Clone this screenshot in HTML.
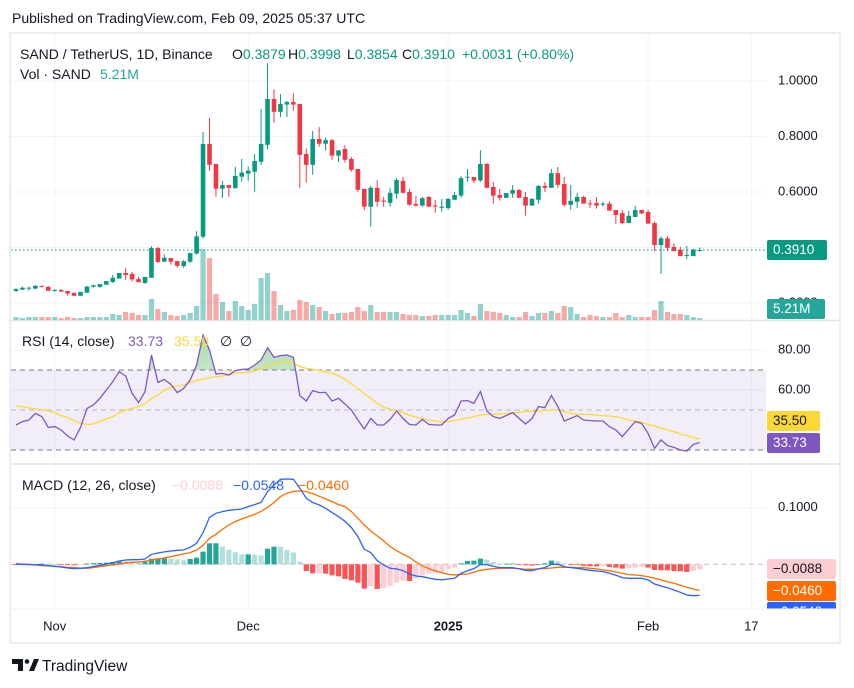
<!DOCTYPE html>
<html><head><meta charset="utf-8">
<style>
html,body{margin:0;padding:0;background:#fff;}
svg{display:block;font-family:"Liberation Sans",sans-serif;}
</style></head>
<body>
<svg id="chart" width="854" height="688" viewBox="0 0 854 688" xmlns="http://www.w3.org/2000/svg">
  <defs>
    <clipPath id="pclip"><rect x="11" y="34" width="755" height="286"/></clipPath>
    <clipPath id="rclip"><rect x="11" y="321" width="755" height="142"/></clipPath>
    <clipPath id="rclipTop"><rect x="11" y="321" width="755" height="49"/></clipPath>
    <clipPath id="mclip"><rect x="11" y="465" width="755" height="143"/></clipPath>
    <linearGradient id="obGrad" x1="0" y1="0" x2="0" y2="1">
      <stop offset="0" stop-color="#4caf50" stop-opacity="0.45"/>
      <stop offset="1" stop-color="#4caf50" stop-opacity="0.05"/>
    </linearGradient>
  </defs>
  <text x="12" y="23" font-size="14" fill="#131722">Published on TradingView.com, Feb 09, 2025 05:37 UTC</text>
  <rect x="10" y="33" width="830" height="610" fill="#fff" stroke="#eeeeee" stroke-width="2"/>
  <g id="grid"></g>
  <line x1="11" y1="320.5" x2="839" y2="320.5" stroke="#e0e3eb" stroke-width="1.5"/>
  <line x1="11" y1="464" x2="839" y2="464" stroke="#e0e3eb" stroke-width="1.5"/>
  <line x1="11" y1="609" x2="766" y2="609" stroke="#f0f0f0" stroke-width="1"/>
  <g id="volume" clip-path="url(#pclip)"></g>
  <g id="candles" clip-path="url(#pclip)"></g>
  <g id="rsi"></g>
  <g id="macd" clip-path="url(#mclip)"></g>
  <g id="axis"></g>

  <g font-size="14">
    <text x="20" y="59" fill="#131722">SAND / TetherUS, 1D, Binance</text>
    <text y="59" fill="#131722"><tspan x="232">O</tspan><tspan fill="#089981">0.3879</tspan><tspan x="288">H</tspan><tspan fill="#089981">0.3998</tspan><tspan x="347">L</tspan><tspan fill="#089981">0.3854</tspan><tspan x="402">C</tspan><tspan fill="#089981">0.3910</tspan><tspan x="462" fill="#089981">+0.0031 (+0.80%)</tspan></text>
    <text x="20" y="79" fill="#131722">Vol · SAND <tspan x="100" fill="#26a69a">5.21M</tspan></text>
  </g>
  <g font-size="14">
    <text x="22" y="346" fill="#131722">RSI (14, close)<tspan x="128" fill="#7E57C2">33.73</tspan><tspan x="174" fill="#FDD835">35.50</tspan><tspan x="220">∅</tspan><tspan x="240">∅</tspan></text>
  </g>
  <g font-size="14">
    <text x="22" y="490" fill="#131722">MACD (12, 26, close)<tspan x="172" fill="#FFCDD2">−0.0088</tspan><tspan x="233" fill="#2962FF">−0.0548</tspan><tspan x="298" fill="#FF6D00">−0.0460</tspan></text>
  </g>
  <g>
    <path d="M12 659 h11 v12 h-5 v-7 h-6 z" fill="#131722"/>
    <circle cx="27" cy="661.5" r="2.3" fill="#131722"/>
    <path d="M29 671 l5 -12 h5 l-5 12 z" fill="#131722"/>
    <text x="42" y="671" font-size="15.5" fill="#131722">TradingView</text>
  </g>
</svg>
<script>
const open  = [.243,.248,.252,.252,.262,.258,.244,.247,.243,.236,.226,.237,.259,.258,.266,.276,.288,.308,.305,.286,.272,.291,.398,.349,.362,.351,.333,.349,.378,.439,.773,.701,.612,.625,.614,.655,.666,.673,.709,.770,.935,.889,.915,.924,.917,.737,.698,.791,.774,.787,.731,.755,.719,.683,.611,.547,.615,.569,.561,.594,.640,.600,.557,.551,.582,.551,.543,.542,.572,.587,.652,.654,.641,.701,.618,.589,.579,.594,.607,.582,.551,.572,.622,.615,.668,.629,.554,.565,.582,.559,.560,.556,.558,.535,.524,.488,.510,.535,.528,.488,.409,.433,.402,.392,.370,.369,.3879];
const high  = [.253,.259,.259,.265,.262,.262,.250,.250,.243,.239,.240,.262,.266,.268,.279,.301,.308,.327,.312,.294,.294,.405,.402,.375,.362,.351,.355,.380,.459,.816,.867,.701,.640,.625,.691,.719,.691,.737,.899,1.065,.970,.953,.928,.956,.917,.757,.820,.834,.796,.791,.751,.769,.726,.683,.611,.622,.643,.583,.614,.650,.654,.611,.586,.582,.586,.571,.575,.578,.600,.658,.683,.654,.751,.705,.636,.611,.596,.625,.611,.600,.578,.625,.636,.683,.690,.654,.625,.596,.586,.571,.582,.565,.566,.535,.535,.532,.550,.535,.535,.495,.440,.440,.416,.402,.405,.395,.3998];
const low   = [.241,.247,.244,.250,.255,.244,.241,.241,.226,.226,.226,.237,.255,.255,.265,.272,.288,.284,.277,.275,.270,.291,.344,.348,.338,.327,.327,.344,.375,.432,.677,.583,.579,.583,.612,.637,.641,.601,.697,.754,.850,.870,.870,.893,.615,.634,.662,.763,.749,.716,.709,.706,.673,.601,.534,.475,.547,.547,.547,.576,.594,.551,.547,.547,.547,.525,.529,.536,.572,.579,.637,.632,.637,.615,.558,.569,.578,.579,.579,.515,.551,.558,.601,.615,.615,.547,.536,.543,.558,.543,.540,.547,.533,.486,.485,.488,.510,.521,.486,.387,.305,.387,.387,.369,.359,.369,.3854];
const close = [.250,.255,.255,.262,.259,.244,.247,.241,.234,.226,.240,.259,.264,.268,.279,.291,.308,.301,.285,.275,.294,.398,.348,.363,.349,.334,.350,.380,.440,.773,.698,.612,.625,.615,.658,.670,.677,.712,.773,.935,.889,.917,.924,.915,.734,.698,.791,.774,.787,.731,.750,.716,.680,.608,.547,.615,.565,.565,.597,.643,.597,.554,.551,.578,.547,.547,.547,.575,.589,.650,.655,.641,.701,.615,.587,.579,.596,.607,.579,.551,.575,.622,.615,.668,.626,.554,.568,.582,.558,.557,.551,.558,.533,.517,.488,.514,.535,.523,.486,.409,.433,.399,.387,.369,.373,.392,.3910];
const volume = [7.8,5.2,7.8,7.8,7.8,7.8,7.8,5.2,7.8,5.2,5.2,7.8,7.8,7.8,7.8,15.6,13,20.8,18.2,13,13,54.6,28.6,20.8,13,10.4,13,18.2,36.4,184.6,161.2,67.6,46.8,23.4,49.4,36.4,26,41.6,109.2,122.2,75.4,39,23.4,26,52,46.8,39,33.8,23.4,15.6,18.2,18.2,20.8,33.8,23.4,39,20.8,20.8,20.8,20.8,15.6,13,13,10.4,10.4,13,13,13,13,26,18.2,10.4,41.6,23.4,20.8,18.2,13,7.8,7.8,20.8,10.4,18.2,18.2,23.4,18.2,36.4,33.8,15.6,7.8,13,10.4,7.8,7.8,18.2,7.8,13,7.8,7.8,7.8,26,49.4,20.8,15.6,15.6,13,7.8,5.21];
const rsi = [42.5,44.2,45,48.3,46.7,41.3,41.7,40,37,35,41.3,50.8,52.5,55.8,60,64.2,69.2,67,58.3,53.7,59.2,77.5,63.8,65.3,62.8,58.7,60.8,65,72.5,87.5,80,68,68.3,67.5,69.7,70.3,70.5,72.5,75,81.2,76.3,77.2,77.5,76.3,57.2,54.5,59.7,58.7,58.8,54.5,55.8,53,50,45,40.5,45.8,42.5,42.5,45.3,49.5,45.8,42.8,42.5,45.3,42.8,42.5,42.5,45.8,47.5,54.5,54.7,53.3,59.2,49.5,46.7,45.8,47.2,48.7,45.8,43,45.8,51.7,51.2,57.2,51.7,44.5,45.8,47.2,45,44.7,44.5,44.5,41.7,40,36.7,40.5,44.2,43.3,38.3,30.8,35,32.2,31.3,30,29.5,32.8,33.73];
const rsiMa = [52,51.7,51,50.5,50.2,49.7,48.7,47.3,46.2,44.7,43.3,42.8,43,44.2,45.5,46.7,48.7,50,50.8,51.7,53,55.8,57.5,60,61.3,62,62.5,63.7,64.7,65.5,66.2,66.7,67,67.5,68.5,68.7,68.8,69.5,70.5,72,73.3,73.8,74,73.3,71.7,70.8,70.3,69.8,69,68.3,67.3,65.3,63,60.8,58,55.8,53.3,51.3,50.3,49.8,48.7,47.3,46.5,45.7,45,44.5,44,44.2,44.8,45.3,46,46.7,47.5,47.8,47.8,48,48.3,48.7,48.8,49.2,49.3,49.5,49.8,50,50,49.2,48.3,48,47.8,47.7,47.5,47.2,47,46.7,45.8,45,44.5,43.8,42.8,42,41,40,39.2,38,37.2,36.2,35.5];
const macdLine = [.0006,0,-.0006,-.0006,-.0012,-.0024,-.0035,-.0047,-.0065,-.0076,-.0071,-.0059,-.0041,-.0018,0,.0029,.0059,.0076,.0082,.0082,.0094,.0176,.0200,.0218,.0235,.0247,.0253,.0300,.0370,.0559,.0829,.0900,.0929,.0953,.0964,.0976,.1017,.1053,.1094,.1282,.1399,.1499,.1505,.1499,.1341,.1164,.1088,.1047,.0988,.0911,.0841,.0759,.0647,.0488,.0265,.0206,.0065,-.0012,-.0071,-.0082,-.0112,-.0171,-.0206,-.0218,-.0241,-.0265,-.0276,-.0259,-.0247,-.0159,-.0112,-.0076,-.0006,-.0006,-.0035,-.0059,-.0059,-.0059,-.0082,-.0106,-.0112,-.0082,-.0059,0,0,-.0041,-.0059,-.0071,-.0088,-.0106,-.0118,-.0129,-.0159,-.0194,-.0235,-.0247,-.0247,-.0247,-.0276,-.0347,-.0382,-.0412,-.0453,-.0494,-.0541,-.0553,-.0548];
const signalLine = [.0012,.0006,0,-.0012,-.0024,-.0029,-.0035,-.0041,-.0053,-.0059,-.0065,-.0071,-.0059,-.0041,-.0029,-.0012,.0006,.0024,.0035,.0041,.0053,.0076,.0094,.0112,.0135,.0159,.0182,.0206,.0253,.0335,.0459,.0529,.0617,.0694,.0753,.0800,.0841,.0882,.0935,.1006,.1088,.1194,.1252,.1288,.1294,.1282,.1247,.1200,.1153,.1106,.1053,.1017,.0929,.0811,.0694,.0588,.0500,.0412,.0312,.0241,.0176,.0123,.0041,-.0024,-.0076,-.0118,-.0147,-.0176,-.0188,-.0176,-.0171,-.0141,-.0106,-.0088,-.0076,-.0071,-.0071,-.0071,-.0076,-.0088,-.0088,-.0082,-.0076,-.0065,-.0053,-.0053,-.0053,-.0059,-.0059,-.0071,-.0082,-.0100,-.0112,-.0135,-.0159,-.0182,-.0188,-.0200,-.0218,-.0247,-.0276,-.0306,-.0335,-.0370,-.0406,-.0435,-.0460];
const priceTicks = [1.0, 0.8, 0.6, 0.2];
const priceTickLabels = ["1.0000","0.8000","0.6000","0.2000"];
const rsiTicks = [80, 60];
const rsiTickLabels = ["80.00","60.00"];
const macdTicks = [0.1];
const macdTickLabels = ["0.1000"];
const timeLabels = ["Nov","Dec","2025","Feb","17"];
const timeIndex = [6, 36, 67, 98, 114];

const NS = "http://www.w3.org/2000/svg";
function mk(tag, attrs, parent){ const e=document.createElementNS(NS,tag); for(const k in attrs) e.setAttribute(k,attrs[k]); parent.appendChild(e); return e; }
const xOf = i => 16 + 6.45*i;
const py = p => 81 + (1-p)*277.5;
const vy = v => 320 - v/2.6;
const ry = v => 350 + (80-v)*2;
const my = v => 564.3 - v*567;
const UP="#089981", DN="#F23645";

const grid=document.getElementById('grid');
timeIndex.forEach((ti,k)=>{
  const l=mk('line',{x1:xOf(ti),x2:xOf(ti),y1:34,y2:608,stroke:'#f0f3fa','stroke-width':1},grid);
  
  
});
priceTicks.concat([0.4]).forEach(p=>{
  const l=mk('line',{x1:11,x2:766,y1:py(p),y2:py(p),stroke:'#f0f3fa','stroke-width':1},grid);
  
  
});
rsiTicks.forEach(v=>{
  const l=mk('line',{x1:11,x2:766,y1:ry(v),y2:ry(v),stroke:'#f0f3fa','stroke-width':1},grid);
  
  
});
macdTicks.forEach(v=>{
  const l=mk('line',{x1:11,x2:766,y1:my(v),y2:my(v),stroke:'#f0f3fa','stroke-width':1},grid);
  
  
});

const vg=document.getElementById('volume');
volume.forEach((v,i)=>{
  const up=close[i]>=open[i];
  const r=mk('rect',{x:xOf(i)-2.6,y:vy(v),width:5.2,height:320-vy(v),fill:up?'rgba(38,166,154,0.5)':'rgba(239,83,80,0.5)'},vg);
  
  
});
const cg=document.getElementById('candles');
close.forEach((c,i)=>{
  const up=c>=open[i], col=up?UP:DN, x=xOf(i);
  const g=mk('g',{},cg);
  
  
  mk('line',{x1:x,x2:x,y1:py(high[i]),y2:py(low[i]),stroke:col,'stroke-width':1},g);
  const t=Math.min(py(open[i]),py(c)), h=Math.max(1,Math.abs(py(open[i])-py(c)));
  mk('rect',{x:x-2.3,y:t,width:4.6,height:h,fill:col},g);
});
const lp=mk('line',{x1:11,x2:766,y1:py(close[close.length-1]),y2:py(close[close.length-1]),stroke:UP,'stroke-width':1,'stroke-dasharray':'1.5 2.5'},cg);



const rg=document.getElementById('rsi');
const band=mk('rect',{x:11,y:ry(70),width:755,height:ry(30)-ry(70),fill:'rgba(126,87,194,0.1)'},rg);


[[70,'#787B86','5 4'],[50,'rgba(120,123,134,0.5)','5 4'],[30,'#787B86','5 4']].forEach(([v,c,d])=>{
  const l=mk('line',{x1:11,x2:766,y1:ry(v),y2:ry(v),stroke:c,'stroke-width':1,'stroke-dasharray':d},rg);
  
  
});
let rpts=rsi.map((v,i)=>xOf(i).toFixed(1)+','+ry(v).toFixed(1));
const ob=mk('path',{d:'M'+xOf(0)+','+ry(70)+' L'+rpts.join(' L')+' L'+xOf(rsi.length-1)+','+ry(70)+' Z',fill:'url(#obGrad)','clip-path':'url(#rclipTop)'},rg);


const maL=mk('polyline',{points:rsiMa.map((v,i)=>xOf(i).toFixed(1)+','+ry(v).toFixed(1)).join(' '),fill:'none',stroke:'#FDD835','stroke-width':1.3,'clip-path':'url(#rclip)'},rg);


const rL=mk('polyline',{points:rpts.join(' '),fill:'none',stroke:'#7E57C2','stroke-width':1.3,'clip-path':'url(#rclip)'},rg);



const mg=document.getElementById('macd');
const z=mk('line',{x1:11,x2:766,y1:my(0),y2:my(0),stroke:'rgba(120,123,134,0.5)','stroke-width':1,'stroke-dasharray':'5 4'},mg);


let prevH=0;
macdLine.forEach((m,i)=>{
  const h=m-signalLine[i];
  let col;
  if(h>=0) col = h>=prevH ? '#26A69A' : '#B2DFDB';
  else col = h<prevH ? '#FF5252' : '#FFCDD2';
  prevH=h;
  const y0=my(0), y1=my(h);
  const r=mk('rect',{x:xOf(i)-2.6,y:Math.min(y0,y1),width:5.2,height:Math.max(0.8,Math.abs(y1-y0)),fill:col},mg);
  
  
});
const sL=mk('polyline',{points:signalLine.map((v,i)=>xOf(i).toFixed(1)+','+my(v).toFixed(1)).join(' '),fill:'none',stroke:'#FF6D00','stroke-width':1.3},mg);


const mL=mk('polyline',{points:macdLine.map((v,i)=>xOf(i).toFixed(1)+','+my(v).toFixed(1)).join(' '),fill:'none',stroke:'#2962FF','stroke-width':1.3},mg);



const ax=document.getElementById('axis');
function label(txt,x,y,opts){
  const t=mk('text',Object.assign({x:x,y:y,'font-size':13,fill:'#131722','dominant-baseline':'middle'},opts||{}),ax);
  t.textContent=txt; return t;
}
priceTicks.forEach((p,k)=>{
  const t=label(priceTickLabels[k],778,py(p));
  
  
});
rsiTicks.forEach((v,k)=>{
  const t=label(rsiTickLabels[k],778,ry(v));
  
  
});
macdTicks.forEach((v,k)=>{
  const t=label(macdTickLabels[k],778,my(v));
  
  
});
timeLabels.forEach((s,k)=>{
  const t=label(s,xOf(timeIndex[k]),627,{'text-anchor':'middle','font-weight':s==='2025'?'bold':'normal'});
  
  
});
function tag(txt,y,bg,fg,w,name,h){
  h=h||20;
  const g=mk('g',{},ax);
  
  
  mk('rect',{x:767,y:y-h/2,width:w,height:h,rx:2,fill:bg},g);
  const t=mk('text',{x:773,y:y+0.5,'font-size':13.5,fill:fg,'dominant-baseline':'middle'},g);
  t.textContent=txt;
  return g;
}
const last=close.length-1;
tag(close[last].toFixed(4),py(close[last]),'#089981','#fff',60,'last-price-tag');
tag(volume[last].toFixed(2)+'M',309,'#26a69a','#fff',58,'volume-tag');
tag(rsiMa[last].toFixed(2),421,'#FDD835','#131722',53,'rsi-ma-tag');
tag(rsi[last].toFixed(2),443,'#7E57C2','#fff',53,'rsi-tag');
const hl=macdLine[last]-signalLine[last];
const fmt=v=>(v<0?'−':'')+Math.abs(v).toFixed(4);
tag(fmt(hl),569,'#FFCDD2','#131722',69,'macd-hist-tag');
tag(fmt(signalLine[last]),591,'#FF6D00','#fff',69,'signal-tag');
const bt=tag(fmt(macdLine[last]),612,'#2962FF','#fff',69,'macd-tag');
const cp=mk('clipPath',{id:'btclip'},document.querySelector('defs'));
mk('rect',{x:760,y:601,width:90,height:7.5},cp);
bt.setAttribute('clip-path','url(#btclip)');
</script>
</body></html>
